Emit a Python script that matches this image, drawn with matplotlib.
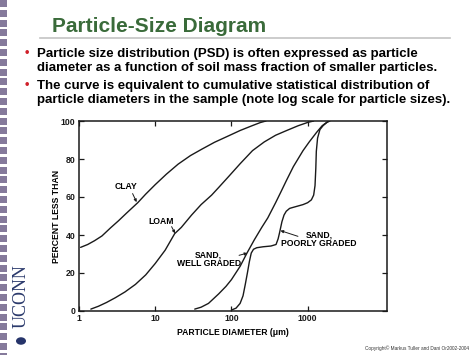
import matplotlib
matplotlib.use("Agg")
import matplotlib.pyplot as plt
from matplotlib.patches import Rectangle, Circle
from matplotlib.lines import Line2D

plt.rcParams['font.family'] = ['Liberation Sans', 'DejaVu Sans']

# ---------------- data ----------------
clay_x = [1.05, 1.3, 1.6, 2.0, 2.6, 3.3, 4.2, 5.9, 7.5, 10, 14, 20, 29, 41, 60, 93, 130, 189, 240, 284]
clay_y = [33.5, 35, 37, 39.5, 43.8, 47.5, 51.5, 57, 61.5, 66.5, 72, 77.3, 81.8, 85.2, 88.8, 92.3, 95, 97.6, 99.2, 100]

loam_x = [1.43, 1.8, 2.3, 3, 4, 5.5, 7.5, 10, 13.5, 18, 22, 30, 40, 55, 68, 93, 130, 189, 270, 380, 524, 750, 1010, 1200]
loam_y = [1, 2.5, 4.5, 7, 10, 14, 19, 25, 32, 40.7, 44, 50.5, 56, 61, 65, 71, 77.5, 84.4, 89, 92.5, 94.9, 97.5, 99.3, 100]

well_x = [33, 40, 50, 68, 85, 100, 130, 160, 200, 250, 300, 380, 450, 524, 650, 870, 1050, 1310, 1550, 1780, 1900]
well_y = [1, 2, 4, 9, 13, 16.5, 23.5, 30.5, 37.5, 44, 49, 57, 63, 68.5, 76, 84.4, 89, 94, 97.5, 99.3, 100]

poor_x = [100, 115, 130, 142, 152, 162, 172, 182, 195, 215, 260, 330, 385, 410, 427, 460, 490, 524, 580, 640,
          870, 1000, 1120, 1200, 1250, 1280, 1300, 1350, 1450, 1600, 1800, 1960]
poor_y = [0.5, 1.5, 4, 8, 14, 20, 26, 30.5, 32.5, 33.3, 33.8, 34.2, 35, 38, 41, 47, 50.5, 52.5, 54, 54.5,
          56, 57, 58.5, 61, 66, 75, 84, 91, 95.5, 97.6, 99.3, 100]

x_ticks = [1, 10, 100, 1000]
x_tick_labels = ["1", "10", "100", "1000"]
y_ticks = [0, 20, 40, 60, 80, 100]

title = "Particle-Size Diagram"
bullets = [
    "Particle size distribution (PSD) is often expressed as particle\n"
    "diameter as a function of soil mass fraction of smaller particles.",
    "The curve is equivalent to cumulative statistical distribution of\n"
    "particle diameters in the sample (note log scale for particle sizes).",
]

W, H = 474, 355
fig = plt.figure(figsize=(W / 100, H / 100), dpi=100)
fig.patch.set_facecolor('white')


def P(x, y):
    return x / W, 1 - y / H


# ---------------- slide decorations ----------------
y0 = 0
while y0 < H:
    fig.patches.append(Rectangle(P(0, y0 + 7), 7 / W, 7 / H, transform=fig.transFigure,
                                 facecolor='#857a9b', edgecolor='none'))
    y0 += 9.8
fig.text(*P(21, 296), "UCONN", rotation=90, ha='center', va='center',
         family=['Liberation Serif'], fontsize=13, color='#2b3a6c')
fig.patches.append(Circle(P(21, 341), 5 / W, transform=fig.transFigure,
                          facecolor='#26346a', edgecolor='none'))

fig.text(*P(52, 31.5), title, ha='left', va='baseline', fontsize=15, fontweight='bold', color='#3a6b3a')
fig.lines.append(Line2D([40 / W, 450 / W], [1 - 38 / H, 1 - 38 / H], transform=fig.transFigure,
                        color='#c4c4c4', lw=1.2))

for by, txt in zip([53, 85], bullets):
    fig.text(*P(27, by), "•", ha='center', va='center', fontsize=9, color='#d0202a', fontweight='bold')
    fig.text(*P(37, by + 6), txt, ha='left', va='center_baseline', fontsize=9.5, fontweight='bold',
             color='black', linespacing=1.17, multialignment='left')

fig.text(*P(469, 348), "Copyright© Markus Tuller and Dani Or2002-2004", ha='right', va='center',
         fontsize=3.4, color='#333333')

# ---------------- chart ----------------
ax = fig.add_axes([79 / W, 1 - 311 / H, (387 - 79) / W, (311 - 121) / H])
ax.set_xscale('log')
ax.set_xlim(1, 11000)
ax.set_ylim(0, 100)

for xs, ys in [(clay_x, clay_y), (loam_x, loam_y), (well_x, well_y), (poor_x, poor_y)]:
    ax.plot(xs, ys, color='#1a1a1a', lw=1.0, solid_joinstyle='round', solid_capstyle='round')

for sp in ax.spines.values():
    sp.set_linewidth(1.1)
    sp.set_color('#1a1a1a')

ax.set_xticks(x_ticks)
ax.set_xticklabels(x_tick_labels)
ax.xaxis.set_minor_locator(matplotlib.ticker.NullLocator())
ax.set_yticks(y_ticks)
ax.tick_params(axis='both', which='major', direction='in', length=3.5, width=0.9,
               top=True, right=True, labelsize=6.3, pad=2.5, colors='#1a1a1a')
for lab in ax.get_xticklabels() + ax.get_yticklabels():
    lab.set_fontweight('bold')

ax.set_xlabel("PARTICLE DIAMETER (μm)", fontsize=6.2, fontweight='bold', labelpad=3)
ax.set_ylabel("PERCENT LESS THAN", fontsize=6.2, fontweight='bold', labelpad=0)

akw = dict(arrowstyle='-|>', color='#1a1a1a', lw=0.7, mutation_scale=4, shrinkA=0, shrinkB=0)
tkw = dict(fontsize=6.2, fontweight='bold', ha='center', va='center', linespacing=1.0)

ax.text(4.15, 65.3, "CLAY", **tkw)
ax.annotate("", xy=(5.7, 57.3), xytext=(5.05, 61.8), arrowprops=akw)

ax.text(12.1, 47.2, "LOAM", **tkw)
ax.annotate("", xy=(18.2, 40.9), xytext=(16.4, 44.4), arrowprops=akw)

ax.text(50.3, 27.2, "SAND,\nWELL GRADED", **tkw)
ax.annotate("", xy=(162, 30.5), xytext=(126, 29.3), arrowprops=akw)

ax.text(1413, 37.8, "SAND,\nPOORLY GRADED", **tkw)
ax.annotate("", xy=(440, 42.3), xytext=(746, 39.3), arrowprops=akw)

fig.savefig("out.png", dpi=100, facecolor='white')
